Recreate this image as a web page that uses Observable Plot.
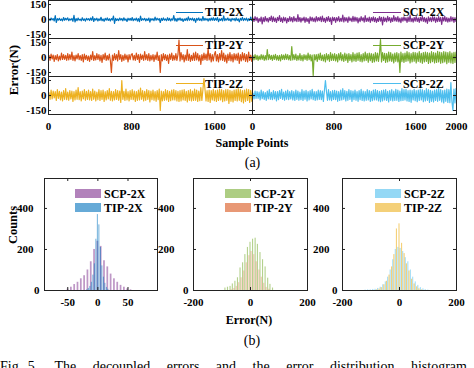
<!DOCTYPE html>
<html><head><meta charset="utf-8">
<script src="https://cdn.jsdelivr.net/npm/d3@7"></script>
<script src="https://cdn.jsdelivr.net/npm/@observablehq/plot@0.6"></script>
<style>
html,body{margin:0;padding:0;background:#fff;}
#root{position:relative;width:474px;height:368px;overflow:hidden;font-family:"Liberation Serif","Times New Roman",serif;color:#000;}
#root svg{position:absolute;overflow:visible;}
.t{position:absolute;white-space:nowrap;line-height:1;font-weight:bold;}
.sw{position:absolute;}
</style></head><body><div id="root"></div>
<script>
// ---------- data ----------
const sampleTicksLeft = [0, 800, 1600];
const sampleTicksRight = [0, 800, 1600, 2000];
const errorTicks = [-150, 0, 150];
const countTicks = [0, 200, 400];
const tsNamesTIP = ["TIP-2X", "TIP-2Y", "TIP-2Z"];
const tsNamesSCP = ["SCP-2X", "SCP-2Y", "SCP-2Z"];

// error series (N), read approximately every 10 samples
const tipX = [6,-10,14,-4,9,-15,38,-30,8,-6,12,-9,5,-14,20,-8,11,-3,16,-12,
 7,-5,10,-18,42,-25,9,-11,15,-7,4,-13,18,-9,6,-16,12,-4,9,-10,
 14,-8,28,-20,10,-6,13,-15,7,-9,22,-12,5,-18,11,-7,16,-10,8,-14,
 10,-5,35,-38,12,-9,6,-11,15,-6,9,-13,17,-8,6,-20,13,-7,11,-9,
 20,-12,7,-6,14,-16,9,-22,33,-10,8,-5,12,-14,6,-9,15,-26,10,-7,
 8,-11,24,-8,13,-5,9,-30,12,-10,16,-7,5,-12,18,-9,11,-15,7,-6,
 40,-14,9,-18,12,-6,15,-10,8,-20,6,-9,13,-11,26,-8,10,-5,14,-12,
 9,-28,11,-7,16,-10,7,-13,30,-9,12,-6,8,-16,10,-11,14,-8,19,-10,
 13,-7,20,-22,6,-9,10,-14,36,-12,8,-6,15,-10,7,-18,11,-5,9,-13,
 16,-9,7,-24,12,-8,21,-11,10,-6,14,-15,8,-9,25,-10,6,-7,12,-8];
const scpX = [15,-20,28,-12,22,-30,10,-18,25,-45,18,-22,30,-15,12,-25,20,-10,35,-22,
 26,-18,14,-30,22,-12,40,-20,16,-28,24,-14,18,-35,12,-20,28,-16,20,-25,
 30,-15,12,-22,48,-18,20,-26,15,-12,24,-30,18,-20,10,-40,26,-14,22,-18,
 14,-24,30,-16,20,-12,26,-22,35,-18,12,-28,22,-15,30,-20,16,-50,24,-12,
 20,-30,18,-14,28,-22,12,-18,45,-25,22,-15,18,-30,26,-12,14,-22,32,-18,
 25,-16,20,-35,15,-22,28,-12,18,-26,40,-20,14,-18,24,-30,20,-14,26,-22,
 18,-28,12,-20,30,-16,22,-55,25,-18,15,-24,32,-14,20,-28,16,-20,38,-15,
 22,-18,28,-24,14,-32,20,-16,26,-12,18,-30,24,-20,45,-22,12,-26,20,-16,
 30,-20,16,-28,22,-14,35,-18,20,-25,14,-40,26,-16,18,-22,30,-14,24,-28,
 16,-22,28,-18,20,-48,24,-15,32,-20,18,-26,14,-22,28,-16,22,-30,18,-20];
const tipY = [20,-28,35,-15,25,-40,18,-22,30,-35,15,-25,45,-20,28,-18,22,-30,38,-25,
 30,-20,55,-28,18,-35,25,-15,40,-22,20,-30,28,-45,35,-18,22,-28,15,-38,
 25,-22,60,-30,18,-25,40,-20,28,-35,22,-50,30,-18,45,-28,20,-25,35,-30,
 -150,25,-30,40,-22,28,-35,70,-20,30,-40,22,-28,35,-18,25,-45,30,-22,28,
 38,-25,22,-30,45,-20,28,-50,35,-18,25,-30,60,-22,30,-28,40,-35,22,-25,
 30,-40,25,-22,55,-30,18,-150,28,-35,40,-22,30,-28,25,-60,35,-20,45,-30,
 22,-25,38,-30,28,175,-35,50,-22,30,-45,25,-28,80,-30,35,-40,22,-28,45,
 -30,55,-25,40,-35,22,-70,30,-28,45,-22,35,-30,90,-25,40,-45,28,-35,30,
 60,-35,28,-45,38,-25,70,-30,45,-40,25,-55,35,-28,50,-35,30,-45,40,-25,
 35,-30,45,-60,28,-35,50,-25,40,-38,30,-45,55,-30,25,-40,35,-28,45,-35];
const scpY = [18,-25,30,-20,22,-28,15,-22,28,-18,25,-30,20,-25,80,-22,28,-18,22,-30,
 25,-20,32,-25,18,-28,22,-35,30,-20,25,-22,35,-18,28,-25,20,-30,110,-25,
 28,-22,35,-30,20,-25,40,-28,22,-35,30,-20,25,-28,45,-22,30,-35,25,-180,
 30,-25,28,-40,35,-22,45,-30,25,-35,28,-45,40,-25,30,-38,50,-28,35,-30,
 40,-35,28,-45,38,-25,50,-32,30,-40,45,-28,35,-50,40,-30,28,-45,50,-35,
 35,-40,45,-30,50,-38,28,-45,40,-35,55,-30,38,-48,45,-32,40,-50,35,-45,
 50,-35,45,-40,38,180,-45,50,-30,42,-50,38,-45,55,-35,48,-40,35,-55,45,
 -38,50,-45,40,-150,55,-42,38,-50,45,-40,60,-35,48,-55,40,-45,52,-38,50,
 -55,45,-40,60,-48,42,-58,50,-45,55,-40,48,-60,45,-52,58,-42,50,-55,45,
 -50,62,-45,55,-58,48,-52,60,-45,55,-62,50,-48,58,-55,45,-60,52,-50,55];
const tipZ = [30,-40,55,-35,45,-25,38,-50,60,-30,42,-45,35,-55,48,-38,70,-42,35,-48,
 50,-35,45,-60,40,-45,55,-38,80,-42,38,-55,45,-35,60,-48,42,-40,55,-45,
 40,-50,65,-38,45,-55,35,-42,60,-50,48,-40,55,-60,38,-45,50,-35,70,-48,
 42,-55,38,-45,60,-40,50,-48,45,-70,150,-38,42,-50,65,-45,38,-55,48,-40,
 58,-42,45,-60,40,-50,55,-45,75,-38,48,-55,42,-48,60,-40,50,-65,45,-42,
 55,-48,40,-58,50,-42,65,-150,45,-55,40,-48,58,-45,50,-60,42,-52,55,-45,
 60,-45,50,-55,42,-60,48,-55,55,-45,60,-50,42,-65,50,-48,58,-55,45,-50,
 65,-48,55,-60,45,-52,80,-50,58,170,62,-55,48,-60,55,-70,50,-45,62,-52,
 48,-60,55,-50,65,-45,58,-62,50,-55,60,-48,60,-80,52,-58,45,-65,55,-50,
 60,-55,70,-48,58,-62,50,-75,55,-58,65,-50,60,-70,52,-58,75,-55,-150,60];
const scpZ = [25,-35,45,-30,40,-28,35,-45,55,-32,38,-40,30,-50,45,-35,60,-38,32,-42,
 48,-35,40,-55,38,-42,50,-30,62,-40,35,-48,45,-38,55,-42,40,-35,50,-45,
 38,-50,55,-40,45,-48,35,-42,58,-50,45,-38,52,-55,40,-45,48,-35,62,-42,
 40,-50,38,-45,55,-40,48,-42,45,-60,50,150,42,-48,58,-45,38,-52,48,-40,
 52,-42,45,-58,40,-50,55,-45,68,-38,48,-55,42,-48,60,-40,50,-60,45,-42,
 55,-48,40,-58,50,-42,62,-50,45,-55,40,-48,58,-45,50,-60,42,-52,55,-45,
 60,-45,50,-55,42,-62,48,-55,55,-45,60,-50,42,-65,50,-48,58,-55,45,-50,
 62,-48,55,-60,45,-52,70,-50,58,-45,62,-55,48,-60,55,-68,50,-45,62,-52,
 48,-62,55,-50,65,-45,58,-62,50,-55,68,-48,60,-70,52,-58,45,-65,55,-50,
 60,-58,72,-48,58,-65,50,-75,55,-58,65,-70,60,-72,130,-60,-150,65,-75,70];

// histograms: bin centres (N) and counts
const binsSCP2X = [-49.5,-44,-38.5,-33,-27.5,-22,-16.5,-11,-5.5,0,5.5,11,16.5,22,27.5,33,38.5,44,49.5,55];
const countsSCP2X = [7,16,29,40,57,72,100,140,200,240,215,145,115,80,57,40,25,16,8,3];
const binsTIP2X = [-17.5,-15,-12.5,-10,-7.5,-5,-2.5,0,2.5,5,7.5,10,12.5,15,17.5];
const countsTIP2X = [4,10,20,40,75,130,250,370,320,210,120,65,35,15,6];
const binsSCP2Y = [-88,-79,-70,-62,-53,-44,-35,-26,-18,-9,0,9,18,26,35,44,53,62,70,79];
const countsSCP2Y = [12,16,20,32,45,62,110,135,175,210,235,250,255,225,185,150,115,60,30,12];
const binsTIP2Y = [-66,-57,-48,-40,-31,-22,-13,-4,4,13,22,31,40,48,57,66];
const countsTIP2Y = [4,10,20,38,62,95,135,170,190,175,140,100,65,35,15,6];
const binsTIP2Z = [-79,-70,-62,-53,-44,-35,-26,-18,-9,0,9,18,26,35,44,53,62,70,79];
const countsTIP2Z = [3,7,14,28,45,75,115,175,300,325,230,180,130,95,55,32,18,8,3];
const binsSCP2Z = [-119,-110,-101,-92,-84,-75,-66,-57,-48,-40,-31,-22,-13,-4,4,13,22,31,40,48,57,66,75,84,92,101];
const countsSCP2Z = [2,3,3,5,6,10,16,28,42,65,100,150,200,210,205,190,160,140,100,65,42,25,14,8,4,2];
const histNames = [["SCP-2X","TIP-2X"],["SCP-2Y","TIP-2Y"],["SCP-2Z","TIP-2Z"]];

// ---------- styles ----------
const C = {tipX:"#0072BD", scpX:"#7E2F8E", tipY:"#D95319", scpY:"#77AC30", tipZ:"#EDB120", scpZ:"#4DBEEE"};
const AX = "#222";
const root = document.getElementById("root");
const fmt = d => String(d);
const baseStyle = {fontFamily:"Liberation Serif, Times New Roman, serif", fontWeight:"bold", fontSize:"11px", color:"#000", background:"transparent", overflow:"visible"};

function place(svg, left, top){ svg.style.left = left+"px"; svg.style.top = top+"px"; root.appendChild(svg); }
function text(str, x, y, {size=12, bold=true, anchor="start", rotate=0}={}) {
  const s = document.createElement("span");
  s.className = "t"; s.textContent = str;
  s.style.fontSize = size+"px"; s.style.fontWeight = bold ? "bold" : "normal";
  s.style.left = x+"px"; s.style.top = y+"px";
  const tx = anchor==="middle" ? "-50%" : anchor==="end" ? "-100%" : "0";
  s.style.transform = rotate ? `translate(-50%,-50%) rotate(${rotate}deg)` : `translate(${tx},-50%)`;
  root.appendChild(s);
}
function box(x, y, w, h, color, op=1){
  const d = document.createElement("div"); d.className="sw";
  Object.assign(d.style,{left:x+"px",top:y+"px",width:w+"px",height:h+"px",background:color,opacity:op});
  root.appendChild(d);
}

// ---------- (a) time series ----------
const W = 204, H = 38;
function tsCell(values, color, col, row) {
  const isLeft = col === 0, isBottom = row === 2;
  const ml = isLeft ? 48 : 0, mb = isBottom ? 20 : 0;
  const xt = isLeft ? sampleTicksLeft : sampleTicksRight;
  const n = values.length;
  const data = values.map((v,i)=>({s: i*2000/n + 5, e: v}));
  const marks = [
    Plot.line(data, {x:"s", y:"e", stroke: color, strokeWidth: 1.2, clip: true}),
    Plot.ruleX(xt, {insetTop: H-3, stroke: AX}),
    Plot.ruleX(xt, {insetBottom: H-3, stroke: AX}),
    Plot.ruleY(errorTicks, {insetRight: W-3, stroke: AX}),
    Plot.ruleY(errorTicks, {insetLeft: W-3, stroke: AX}),
    Plot.frame({stroke: AX})
  ];
  if (isLeft) marks.push(Plot.axisY(errorTicks, {tickSize:0, tickPadding:2, tickFormat: fmt, label: null}));
  if (isBottom) marks.push(Plot.axisX(xt, {tickSize:0, tickPadding:8, tickFormat: fmt, label: null}));
  const svg = Plot.plot({
    width: ml+W, height: H+mb, marginLeft: ml, marginRight: 0, marginTop: 0, marginBottom: mb,
    x: {domain: [0, isLeft ? 1962 : 2000], label: null, axis: isBottom ? undefined : null},
    y: {domain: [-190, 190], label: null, axis: isLeft ? undefined : null},
    style: baseStyle, marks
  });
  place(svg, (isLeft ? 48 : 252) - ml, row*H);
}
const tipSeries = [tipX, tipY, tipZ], scpSeries = [scpX, scpY, scpZ];
const tipCols = [C.tipX, C.tipY, C.tipZ], scpCols = [C.scpX, C.scpY, C.scpZ];
for (let r=0; r<3; r++) {
  tsCell(tipSeries[r], tipCols[r], 0, r);
  tsCell(scpSeries[r], scpCols[r], 1, r);
}
const legY = [12, 45, 83.5];
for (let r=0; r<3; r++) {
  box(176, legY[r]-0.5, 27, 1.2, tipCols[r]);
  text(tsNamesTIP[r], 205, legY[r], {size:12});
  box(373, legY[r]-0.5, 28, 1.2, scpCols[r]);
  text(tsNamesSCP[r], 403, legY[r], {size:12});
}
text("Error(N)", 12.5, 70, {size:13, rotate:-90});
text("Sample Points", 252, 143, {size:12, anchor:"middle"});
text("(a)", 252.5, 163, {size:14, bold:false, anchor:"middle"});

// ---------- (b) histograms ----------
const HH = 112;
function histCell(boxLeft, boxW, xdom, xticks, series, gapHigh) {
  const ML = 40, MB = 20;
  const marks = [];
  for (const s of series) {
    const data = s.bins.map((c,i)=>({c, n: s.counts[i]}));
    marks.push(Plot.rect(data, {x1: d=>d.c - s.bw/2, x2: d=>d.c + s.bw/2, y1: 0, y2: "n",
      fill: s.color, fillOpacity: s.op, insetLeft: s.inset, insetRight: s.inset}));
  }
  marks.push(
    Plot.ruleX(xticks, {insetTop: HH-3, stroke: AX}),
    Plot.ruleX(xticks, {insetBottom: HH-3, stroke: AX}),
    Plot.ruleY(countTicks, {insetRight: boxW-3, stroke: AX}),
    Plot.ruleY(countTicks, {insetLeft: boxW-3, stroke: AX}),
    Plot.frame({stroke: AX}),
    Plot.axisX(xticks, {tickSize:0, tickPadding:8, tickFormat: fmt, label: null}),
    Plot.axisY(countTicks.filter(d=>d>0), {tickSize:0, tickPadding: gapHigh, tickFormat: fmt, label: null}),
    Plot.axisY(countTicks.filter(d=>d===0), {tickSize:0, tickPadding: 5, tickFormat: fmt, label: null})
  );
  const svg = Plot.plot({
    width: ML+boxW, height: HH+MB, marginLeft: ML, marginRight: 0, marginTop: 0, marginBottom: MB,
    x: {domain: xdom, label: null}, y: {domain: [0, 546], label: null}, style: baseStyle, marks
  });
  place(svg, boxLeft - ML, 178);
}
histCell(44, 113, [-88.6, 99], [-50, 0, 50], [
  {bins: binsSCP2X, counts: countsSCP2X, color: C.scpX, bw: 5.5, inset: 0.8, op: 0.5},
  {bins: binsTIP2X, counts: countsTIP2X, color: C.tipX, bw: 2.5, inset: 0.25, op: 0.55}
], 11);
histCell(193, 114, [-200, 200], [-200, 0, 200], [
  {bins: binsSCP2Y, counts: countsSCP2Y, color: C.scpY, bw: 8.8, inset: 0.7, op: 0.55},
  {bins: binsTIP2Y, counts: countsTIP2Y, color: C.tipY, bw: 8.8, inset: 0.7, op: 0.3}
], 19);
histCell(342, 114, [-200, 200], [-200, 0, 200], [
  {bins: binsSCP2Z, counts: countsSCP2Z, color: C.scpZ, bw: 8.8, inset: 0.7, op: 0.5},
  {bins: binsTIP2Z, counts: countsTIP2Z, color: C.tipZ, bw: 8.8, inset: 0.7, op: 0.6}
], 13);
const legX = [75, 225, 375];
const histCols = [[C.scpX, C.tipX],[C.scpY, C.tipY],[C.scpZ, C.tipZ]];
for (let k=0; k<3; k++) {
  box(legX[k], 189, 25.5, 9, histCols[k][0], 0.6);
  box(legX[k], 203, 25.5, 9, histCols[k][1], 0.6);
  text(histNames[k][0], legX[k]+29, 193.5, {size:12});
  text(histNames[k][1], legX[k]+29, 207.5, {size:12});
}
text("Counts", 12.5, 225, {size:12.5, rotate:-90});
text("Error(N)", 249, 320, {size:12, anchor:"middle"});
text("(b)", 252, 341, {size:14, bold:false, anchor:"middle"});

// caption (cut off at the bottom edge, as in the source)
const cap = document.createElement("div");
cap.textContent = "Fig. 5.   The   decoupled   errors   and   the   error   distribution   histogram   of";
Object.assign(cap.style, {position:"absolute", left:"0px", top:"359.5px", fontSize:"14px", whiteSpace:"pre", lineHeight:"1", wordSpacing:"2px"});
root.appendChild(cap);
</script></body></html>
